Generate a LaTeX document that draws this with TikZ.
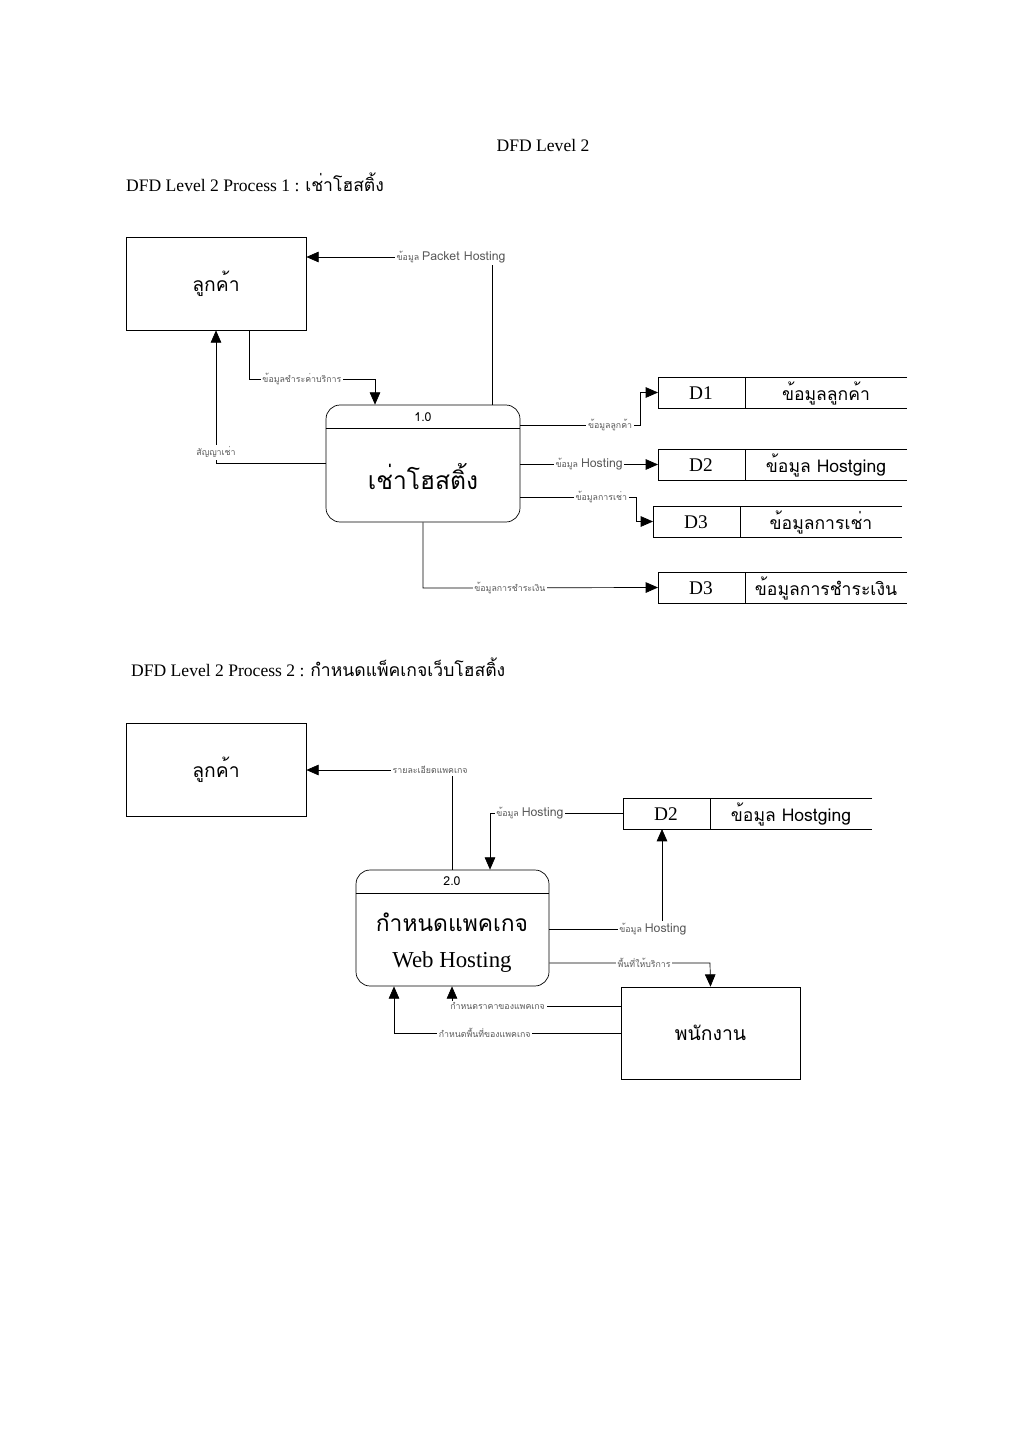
\documentclass[tikz,border=0pt]{standalone}
\usepackage{fontspec}
\usetikzlibrary{arrows.meta, positioning, calc}
\setmainfont{Liberation Serif}
\IfFontExistsTF{Kinnari.otf}{\newfontfamily\thai{Kinnari.otf}}{\newfontfamily\thai{Loma.otf}}
\IfFontExistsTF{Loma.otf}{\newfontfamily\lblfont{Loma.otf}}{\newfontfamily\lblfont{Liberation Sans}}
\begin{document}
\begin{tikzpicture}[
    x=0.02cm, y=-0.02cm,
    entity/.style={rectangle, draw, minimum width=3.6cm, minimum height=1.86cm, font=\thai\fontsize{11}{13}\selectfont},
    proc/.style={rectangle, draw, rounded corners=8pt, minimum width=3.88cm, minimum height=2.34cm},
    store/.style={font=\fontsize{11}{13}\selectfont},
    lbl/.style={fill=white, inner sep=1pt, text=gray!70!black, font=\lblfont\fontsize{5}{6}\selectfont},
    flow/.style={-{Triangle[length=7pt,width=6pt]}, thin}
]
    \useasboundingbox (0,0) rectangle (1024,1450);
    % Titles
    \node (title) at (543,145) {\fontsize{10}{12}\selectfont DFD Level 2};
    \node[anchor=west] (sub1) at (120,182) {\fontsize{10}{12}\selectfont DFD Level 2 Process 1 : {\thai เช่าโฮสติ้ง}};
    \node[anchor=west] (sub2) at (125,667) {\fontsize{10}{12}\selectfont DFD Level 2 Process 2 : {\thai กำหนดแพ็คเกจเว็บโฮสติ้ง}};

    % Part 1
    \node[entity] (cust1) at (216,283.5) {ลูกค้า};
    \node[proc] (p1) at (423,463.5) {};
    \draw (p1.north west |- 0,428) -- (p1.north east |- 0,428);
    \node[font=\lblfont\fontsize{7}{8}\selectfont] (p1id) at (423,417) {1.0};
    \node[font=\thai\fontsize{14}{16}\selectfont] (p1txt) at (423,477) {เช่าโฮสติ้ง};

    % Stores
    \foreach \nm/\x/\y/\id/\txt in {d1/658/377/D1/ข้อมูลลูกค้า, d2/658/449/D2/ข้อมูล Hostging, d3/653/506/D3/ข้อมูลการเช่า, d4/658/572/D3/ข้อมูลการชำระเงิน, e2/623/798/D2/ข้อมูล Hostging}{
        \draw (\x+249,\y) -- (\x,\y) -- (\x,\y+31) -- (\x+249,\y+31);
        \draw (\x+87,\y) -- (\x+87,\y+31);
        \coordinate (\nm) at (\x,\y+15.5);
        \node[store] (\nm id) at (\x+43,\y+16) {\id};
        \node[store, font=\thai\fontsize{10}{12}\selectfont] (\nm txt) at (\x+168,\y+16) {\txt};
    }

    % Flows part 1
    \draw[flow] (p1.north -| 492,0) -- (492,257) -- (cust1.east |- 0,257)
        node[lbl, pos=0.22] {ข้อมูล {\fontsize{7}{8}\selectfont Packet Hosting}};
    \draw[flow] (cust1.south -| 249,0) -- (249,379) -- (375,379)
        node[lbl, pos=0.42] {ข้อมูลชำระค่าบริการ} -- (p1.north -| 375,0);
    \draw[flow] (p1.west |- 0,463) -- (216,463) -- (cust1.south -| 216,0)
        node[lbl, pos=0.08] {สัญญาเช่า};
    \draw[flow] (p1.east |- 0,425) -- (640,425) node[lbl, pos=0.75] {ข้อมูลลูกค้า} -- (640,392.5) -- (d1);
    \draw[flow] (p1.east |- 0,464.5) -- (d2) node[lbl, pos=0.5] {ข้อมูล {\fontsize{7}{8}\selectfont Hosting}};
    \draw[flow] (p1.east |- 0,497) -- (636,497) node[lbl, pos=0.7] {ข้อมูลการเช่า} -- (636,521.5) -- (d3);
    \draw[flow] (p1.south) -- (423,588) -- (d4) node[lbl, pos=0.37] {ข้อมูลการชำระเงิน};

    % Part 2
    \node[entity] (cust2) at (216,769.5) {ลูกค้า};
    \node[proc, minimum width=3.86cm, minimum height=2.32cm] (p2) at (452.5,928) {};
    \draw (p2.north west |- 0,893) -- (p2.north east |- 0,893);
    \node[font=\lblfont\fontsize{7}{8}\selectfont] (p2id) at (452,881) {2.0};
    \node[font=\thai\fontsize{13}{15}\selectfont] (p2txt1) at (452,922) {กำหนดแพคเกจ};
    \node[font=\fontsize{13}{15}\selectfont] (p2txt2) at (452,962) {Web Hosting};
    \node[entity, minimum width=3.58cm, minimum height=1.84cm] (emp) at (710.5,1033) {พนักงาน};

    \draw[flow] (p2.north -| 452,0) -- (452,770) -- (cust2.east |- 0,770)
        node[lbl, pos=0.15] {รายละเอียดแพคเกจ};
    \draw[flow] (e2) -- (490,813.5) node[lbl, pos=0.7] {ข้อมูล {\fontsize{7}{8}\selectfont Hosting}} -- (p2.north -| 490,0);
    \draw[flow] (p2.east |- 0,929) -- (662,929) node[lbl, pos=0.92] {ข้อมูล {\fontsize{7}{8}\selectfont Hosting}} -- (662,829);
    \draw[flow] (p2.east |- 0,963) -- (710,963) node[lbl, pos=0.59] {พื้นที่ให้บริการ} -- (emp.north);
    \draw[flow] (emp.west |- 0,1006) -- (452,1006) node[lbl, pos=0.73] {กำหนดราคาของแพคเกจ} -- (p2.south -| 452,0);
    \draw[flow] (emp.west |- 0,1033) -- (394,1033) node[lbl, pos=0.6] {กำหนดพื้นที่ของแพคเกจ} -- (p2.south -| 394,0);
\end{tikzpicture}
\end{document}
